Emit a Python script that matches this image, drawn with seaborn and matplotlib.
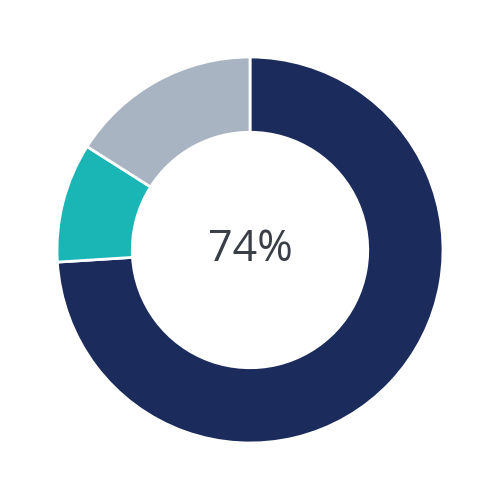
import matplotlib
matplotlib.use("Agg")
import matplotlib.pyplot as plt
import seaborn as sns

sns.set_style("white")
plt.rcParams['font.family'] = ['Open Sans', 'DejaVu Sans']

labels = ["Primary", "Secondary", "Other"]
values = [74, 10, 16]
colors = ["#1b2b5b", "#1ab6b6", "#a9b4c3"]
center_text = "74%"

fig = plt.figure(figsize=(5, 5), dpi=100)
ax = fig.add_axes([0, 0, 1, 1])
ax.pie(values, colors=colors, startangle=90, counterclock=False,
       wedgeprops=dict(width=0.39, edgecolor="white", linewidth=2))
ax.text(0, 0, center_text, ha="center", va="center", fontsize=31, color="#3a3f47")
lim = 250 / 193
ax.set_xlim(-lim, lim)
ax.set_ylim(-lim, lim)
ax.set_aspect("equal")
ax.axis("off")
fig.savefig("out.png", dpi=100, facecolor="white")
